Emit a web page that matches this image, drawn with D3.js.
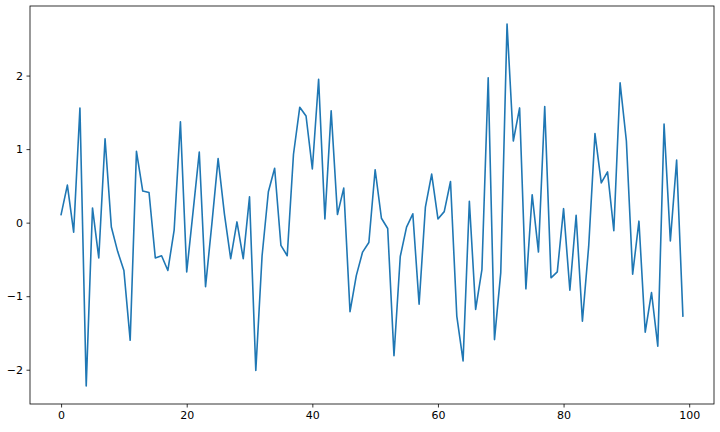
<!DOCTYPE html>
<html>
<head>
<meta charset="utf-8">
<script src="https://cdn.jsdelivr.net/npm/d3@7"></script>
<style>
	body { margin: 0; background: #fff; }
	svg { display: block; }
	text { font-family: "DejaVu Sans", sans-serif; font-size: 11px; fill: #000; }
</style>
</head>
<body>
<div id="chart"></div>
<script>
var xValues = d3.range(0, 100);
var yValues = [
	0.11, 0.51, -0.13, 1.56, -2.22, 0.20, -0.48, 1.14, -0.06, -0.39,
	-0.65, -1.60, 0.97, 0.43, 0.41, -0.48, -0.45, -0.65, -0.10, 1.37,
	-0.67, 0.14, 0.96, -0.87, -0.02, 0.87, 0.12, -0.49, 0.01, -0.49,
	0.35, -2.01, -0.45, 0.42, 0.74, -0.31, -0.45, 0.93, 1.57, 1.45,
	0.73, 1.95, 0.05, 1.52, 0.11, 0.47, -1.21, -0.72, -0.40, -0.27,
	0.72, 0.06, -0.08, -1.81, -0.46, -0.06, 0.12, -1.11, 0.21, 0.66,
	0.05, 0.15, 0.56, -1.27, -1.88, 0.29, -1.18, -0.64, 1.97, -1.59,
	-0.68, 2.70, 1.11, 1.56, -0.90, 0.38, -0.40, 1.58, -0.75, -0.67,
	0.19, -0.92, 0.10, -1.34, -0.32, 1.21, 0.54, 0.69, -0.11, 1.90,
	1.11, -0.70, 0.02, -1.49, -0.95, -1.68, 1.34, -0.25, 0.85, -1.27
];
var xTicks = [0, 20, 40, 60, 80, 100];
var yTicks = [-2, -1, 0, 1, 2];

;(function(){
	var w = 720;
	var h = 432;
	var left = 30;
	var right = 714;
	var top = 6;
	var bottom = 404;
	var tickLen = 3.5;

	var svg = d3.select("#chart").append("svg")
		.attr("width", w)
		.attr("height", h);

	// matplotlib style 5% margins
	var xmin = d3.min(xValues), xmax = d3.max(xValues);
	var ymin = d3.min(yValues), ymax = d3.max(yValues);
	var xm = (xmax - xmin) * 0.05;
	var ym = (ymax - ymin) * 0.05;

	var xscale = d3.scaleLinear()
		.domain([xmin - xm, xmax + xm])
		.range([left, right]);
	var yscale = d3.scaleLinear()
		.domain([ymin - ym, ymax + ym])
		.range([bottom, top]);

	var fmt = function(d){ return String(d).replace("-", "\u2212"); };

	// the line itself
	var line = d3.line()
		.x(function(d, i){ return xscale(xValues[i]); })
		.y(function(d){ return yscale(d); });

	svg.append("path")
		.datum(yValues)
		.attr("d", line)
		.attr("fill", "none")
		.attr("stroke", "#1f77b4")
		.attr("stroke-width", 1.6)
		.attr("stroke-linejoin", "round")
		.attr("stroke-linecap", "square");

	// axes
	var xaxis = d3.axisBottom(xscale)
		.tickValues(xTicks)
		.tickSize(tickLen)
		.tickPadding(3.5)
		.tickFormat(fmt);
	var yaxis = d3.axisLeft(yscale)
		.tickValues(yTicks)
		.tickSize(tickLen)
		.tickPadding(3.5)
		.tickFormat(fmt);

	var gx = svg.append("g")
		.attr("transform", "translate(0," + bottom + ")")
		.call(xaxis);
	var gy = svg.append("g")
		.attr("transform", "translate(" + left + ",0)")
		.call(yaxis);

	[gx, gy].forEach(function(g){
		g.select(".domain").remove();
		g.selectAll(".tick line").attr("stroke", "#000").attr("stroke-width", 0.8);
		g.selectAll(".tick text")
			.attr("fill", "#000")
			.style("font-family", "'DejaVu Sans', sans-serif")
			.style("font-size", "11px");
	});

	// frame
	svg.append("rect")
		.attr("x", left)
		.attr("y", top)
		.attr("width", right - left)
		.attr("height", bottom - top)
		.attr("fill", "none")
		.attr("stroke", "#000")
		.attr("stroke-width", 0.8);
})();
</script>
</body>
</html>
